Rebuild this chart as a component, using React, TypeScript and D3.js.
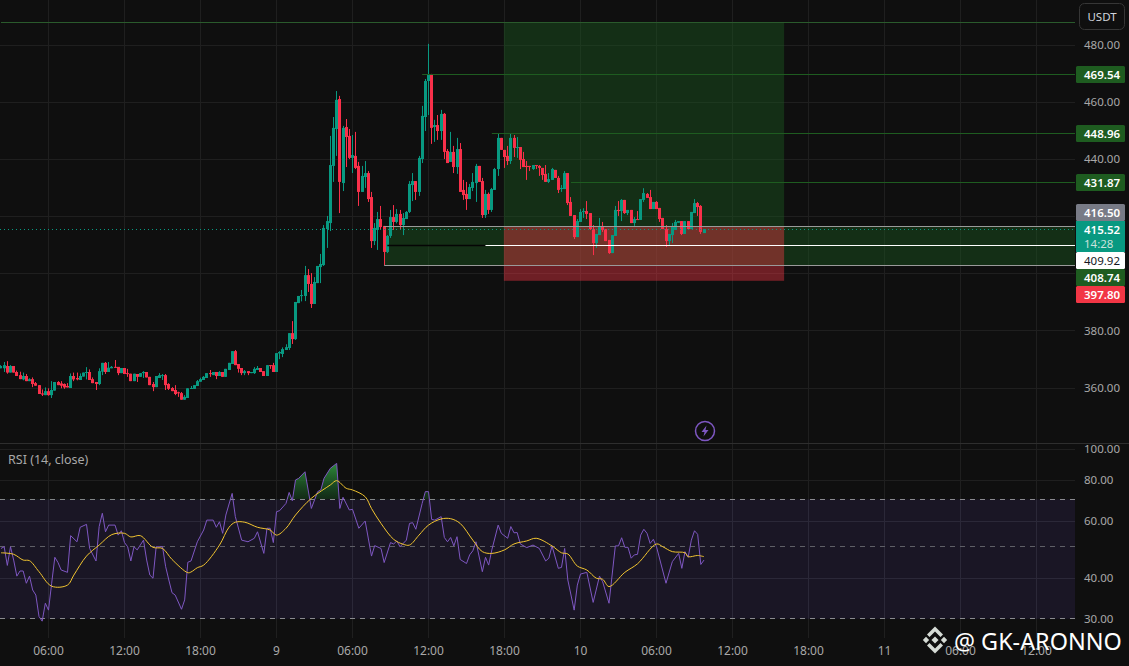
import React from "react";
import * as d3 from "d3";

const opens = [
366.9,366.9,367.7,365.4,367.7,365.6,364.5,363.0,364.2,362.4,
363.1,361.7,361.0,358.1,357.5,358.9,357.5,359.1,362.1,361.6,
361.4,360.7,360.0,364.2,363.5,362.8,364.0,365.4,365.6,363.1,
362.1,361.4,365.7,368.8,365.6,366.9,367.4,367.4,365.2,367.0,
365.2,365.0,362.4,364.9,363.9,365.2,365.6,363.9,361.4,360.3,
363.5,364.3,364.5,361.4,360.0,359.3,358.5,358.2,355.9,356.5,
359.7,359.7,360.7,362.2,362.8,363.5,365.2,364.5,365.6,364.2,
365.6,363.9,366.3,368.4,372.9,368.4,367.0,365.2,365.9,365.2,
365.2,366.3,367.0,365.9,364.2,368.0,368.0,365.6,372.1,371.9,
373.3,374.0,379.2,377.1,389.7,392.3,392.2,399.5,396.4,389.4,
396.7,402.3,403.0,415.6,417.7,437.7,450.6,461.1,431.7,451.3,
448.2,440.5,441.2,437.7,428.6,433.8,435.2,426.8,411.4,415.3,
419.1,416.7,407.6,413.2,419.8,418.1,420.9,417.0,419.1,421.6,
431.0,432.4,428.6,440.1,454.8,467.4,469.5,451.3,452.0,449.9,
455.9,442.9,439.1,442.6,437.3,443.6,429.3,427.9,426.1,430.0,
431.7,437.7,432.4,420.5,427.9,422.3,429.3,436.6,447.5,443.3,
441.2,439.4,447.5,444.0,444.3,440.1,437.7,437.7,436.6,438.0,
437.7,437.0,434.9,432.1,432.8,436.3,433.5,429.6,429.6,435.2,
425.1,420.5,412.8,418.1,421.6,421.9,421.2,415.6,410.7,413.5,
416.7,415.6,411.8,407.2,413.2,422.3,421.9,425.8,421.2,422.3,
417.7,419.1,418.8,425.8,427.9,426.8,422.6,425.1,423.0,419.5,
415.6,411.4,413.5,415.3,417.8,418.4,413.9,418.4,415.6,421.2,
424.7,423.7,414.2];

const highs = [
368.0,369.1,369.4,368.0,367.7,366.1,365.7,365.4,364.9,363.4,
363.7,362.1,361.0,359.5,360.2,359.9,362.4,362.1,362.4,362.4,
361.6,361.7,365.1,365.4,365.4,365.1,365.4,367.3,366.5,363.7,
362.1,366.9,368.8,369.1,369.1,367.7,369.8,367.3,367.0,367.0,
366.7,365.0,365.0,364.9,365.2,365.9,365.6,363.9,362.1,364.2,
365.2,364.9,364.9,361.7,360.3,361.0,358.7,358.6,357.5,359.9,
360.7,361.0,362.8,363.6,364.2,365.2,366.3,365.6,365.6,365.9,
365.6,366.7,368.8,372.9,373.3,368.4,367.0,366.3,365.9,365.6,
367.3,367.7,367.0,365.9,368.0,368.0,368.8,372.2,372.9,374.2,
375.3,379.2,383.4,390.1,392.2,394.3,402.7,401.6,400.2,398.8,
402.7,406.9,417.0,420.2,448.2,454.8,463.9,462.2,451.7,454.1,
450.6,448.5,449.6,439.1,437.7,439.4,435.9,428.6,417.7,421.6,
423.7,416.7,413.5,422.3,424.0,422.6,422.3,421.2,421.9,432.4,
435.2,432.4,441.2,458.7,468.1,480.4,469.9,453.8,455.5,457.3,
456.2,443.6,449.6,444.7,447.5,445.7,432.8,432.1,431.4,435.2,
438.4,437.7,433.5,429.3,428.4,430.0,437.0,448.9,447.5,443.3,
444.7,449.2,448.5,447.8,444.3,442.6,439.4,437.7,438.0,438.0,
438.0,437.0,438.0,435.2,437.0,436.3,434.2,431.0,435.9,435.2,
426.8,420.5,419.1,422.6,422.9,425.4,421.2,417.0,413.9,419.5,
418.1,415.6,411.8,413.5,423.7,425.4,426.1,425.8,422.3,422.3,
419.8,421.9,426.1,429.9,428.2,429.3,425.1,425.4,423.0,419.5,
417.0,413.9,417.7,418.8,418.4,418.4,418.4,418.4,421.6,426.1,
425.1,424.0,415.6];

const lows = [
366.9,365.6,365.0,365.4,365.4,364.2,363.1,362.7,362.4,362.4,
360.3,360.8,357.9,357.2,357.5,357.3,356.5,359.1,361.0,359.9,
359.7,360.2,360.0,362.4,362.7,362.8,364.0,363.0,362.8,361.7,
359.3,361.0,364.5,364.9,365.6,366.9,367.1,364.5,365.2,364.9,
363.9,362.4,362.4,362.1,363.9,363.5,363.7,361.0,358.9,360.3,
363.5,362.8,359.3,359.3,358.9,357.5,356.9,355.9,355.9,356.5,
359.7,359.7,360.7,362.2,362.8,363.5,363.9,364.5,363.1,364.2,
363.9,363.9,366.3,368.4,368.0,365.4,364.5,364.5,364.5,365.2,
364.9,366.3,365.6,364.2,364.2,366.7,365.6,365.6,370.1,370.8,
373.3,373.3,375.4,376.8,389.7,390.3,390.4,393.6,388.0,389.4,
396.7,396.7,402.7,409.0,414.9,432.1,441.2,421.2,428.9,437.3,
440.1,435.2,436.6,423.7,428.6,430.0,425.1,409.0,410.0,408.3,
415.3,403.0,407.2,412.5,415.3,417.6,415.3,413.5,419.1,421.2,
425.4,425.8,427.2,438.7,449.9,455.5,445.4,446.1,446.8,446.8,
440.1,438.7,439.1,435.2,434.9,428.6,425.8,422.3,426.1,428.9,
425.1,432.1,419.5,419.5,420.9,421.6,429.3,434.2,443.3,437.0,
438.0,438.4,440.8,440.5,436.6,437.3,432.8,435.9,436.3,436.6,
434.2,432.8,432.1,431.7,432.8,433.5,428.2,428.6,429.6,424.0,
420.2,412.1,412.8,418.1,419.5,419.1,415.3,406.5,409.0,413.5,
414.6,411.4,406.9,407.2,413.2,420.2,418.4,420.9,420.5,417.7,
416.7,418.9,418.8,425.1,426.5,422.6,422.6,422.6,418.1,415.6,
409.3,409.7,410.7,415.3,417.8,413.5,413.9,415.3,415.6,421.2,
420.2,413.9,414.2];

const closes = [
367.7,368.0,365.4,367.7,365.4,364.2,363.1,364.2,362.4,363.1,
361.4,360.8,357.9,357.7,358.9,357.5,359.3,362.1,361.0,360.8,
360.2,360.2,364.2,363.0,363.0,364.2,365.4,365.6,362.8,361.7,
361.4,365.9,368.8,365.6,367.1,367.4,367.1,365.2,367.0,364.9,
365.0,362.4,365.0,363.9,365.2,365.6,363.7,361.0,360.3,364.2,
364.5,364.5,361.0,359.7,358.9,357.9,358.2,355.9,356.9,359.9,
360.0,361.0,362.4,363.1,363.9,365.2,365.0,365.6,364.2,365.6,
363.9,366.7,368.8,372.9,368.0,366.7,365.2,365.9,365.2,365.6,
366.7,367.0,365.6,364.2,368.0,367.7,365.6,372.2,372.6,373.6,
374.3,379.2,377.1,390.1,392.2,392.5,399.5,396.4,389.4,397.1,
402.7,403.4,416.0,418.4,438.0,451.0,460.8,432.1,451.0,447.8,
440.5,441.5,437.0,428.6,434.2,435.2,426.1,411.4,416.0,419.1,
416.3,407.6,413.2,419.8,418.1,420.9,417.0,419.5,421.6,431.4,
432.4,428.6,440.5,455.2,467.4,469.5,451.0,452.0,449.9,455.9,
442.6,438.7,442.6,437.3,443.6,428.6,427.5,426.1,430.3,432.1,
437.7,432.1,420.5,427.9,422.3,429.6,436.6,447.5,443.3,440.8,
439.4,447.5,444.0,444.3,439.8,437.3,437.3,437.3,438.0,437.7,
437.0,434.5,432.1,433.1,436.6,433.5,429.3,430.0,435.2,424.7,
420.2,412.8,418.4,421.6,421.9,420.9,415.6,410.7,413.9,416.7,
415.3,411.4,407.2,413.5,422.3,421.9,425.8,421.2,422.3,417.7,
419.1,418.9,426.1,428.2,426.5,422.6,425.1,422.6,419.1,415.6,
411.4,413.9,416.7,418.1,418.4,413.9,418.4,415.6,421.6,424.7,
423.3,414.6,415.6];

const rsiBars = [
0,1,2,3,4,5,6,7,8,9,10,11,12,13,14,15,16,17,18,19,21,22,24,25,27,28,30,31,32,33,34,36,37,38,39,40,41,42,43,45,46,47,48,49,51,52,53,54,55,57,58,59,60,62,64,65,67,68,69,70,71,73,74,76,78,80,81,83,84,85,86,87,88,90,91,92,93,94,96,97,98,100,101,102,104,106,107,108,110,111,113,115,117,118,120,121,123,124,125,126,128,129,130,131,133,134,135,136,137,139,140,141,142,143,144,145,147,148,149,150,152,153,154,155,157,158,160,161,162,163,164,166,168,170,172,173,174,176,177,178,179,181,182,183,185,187,189,190,192,194,195,196,197,198,199,200,201,202,203,204,205,206,207,210,212,214,215,216,217,218,219,220,221,222];
const rsiValues = [
49.4,50.0,43.8,50.0,45.5,40.6,42.1,42.1,38.6,40.6,36.8,35.5,30.5,29.5,33.5,31.9,38.6,46.4,44.7,42.4,41.7,54.1,51.8,57.4,58.6,49.4,45.2,57.7,63.4,55.6,58.3,58.3,54.3,56.0,51.5,50.0,45.2,50.0,48.9,52.4,45.5,40.9,40.0,50.0,50.0,43.4,39.5,36.1,35.5,32.1,34.3,44.8,45.2,51.8,56.3,60.4,60.4,57.4,59.7,55.0,62.6,73.0,61.9,52.4,51.8,53.1,55.6,47.7,57.0,57.0,51.5,64.1,64.6,68.0,73.5,69.3,80.3,81.2,85.1,74.8,65.6,73.9,74.8,81.2,87.2,90.3,65.6,71.0,64.9,65.2,57.0,60.0,46.8,50.4,49.4,44.7,51.5,51.0,52.1,50.0,52.4,59.0,59.3,56.6,68.0,73.9,73.9,60.7,60.4,61.9,53.4,51.8,53.4,50.3,53.7,45.7,44.4,47.2,48.6,51.8,41.9,46.4,43.9,48.9,58.3,55.0,53.1,57.7,55.2,55.3,51.0,49.7,50.6,49.4,45.2,46.1,50.3,42.9,43.2,49.4,39.5,31.9,38.1,41.2,41.7,33.7,40.6,39.0,33.5,50.3,50.3,53.3,49.8,49.8,46.1,47.2,47.4,54.3,56.6,55.0,51.2,52.7,50.0,38.6,45.0,47.7,42.9,48.3,46.4,52.4,56.0,54.6,44.1,45.5];

const signalBars = [
0,4,7,9,12,16,21,23,27,31,35,39,41,44,48,51,54,59,60,62,64,69,72,74,77,81,85,87,90,93,98,104,106,109,111,115,117,120,124,127,129,132,135,139,142,145,149,152,155,159,162,166,169,174,177,179,182,185,188,190,192,197,201,207,209,212,216,217,220,222];
const signalValues = [
47.9,47.4,45.5,45.3,41.9,37.8,38.1,40.9,46.8,50.6,54.5,55.0,53.6,54.1,49.8,49.4,45.7,41.6,41.8,43.1,43.9,50.6,57.4,59.5,59.5,57.4,56.3,54.3,57.0,62.6,70.5,77.5,79.9,75.7,74.8,71.3,65.6,59.0,52.7,50.9,50.6,54.3,58.3,60.9,61.0,59.0,52.4,48.3,47.7,48.9,51.0,52.1,53.1,50.3,47.9,47.5,43.6,42.4,40.0,39.7,37.7,41.7,44.3,51.0,50.0,48.3,47.9,46.6,47.0,46.6];

const timeBars = [15,39,63,87,111,135,159,183,207,231,255,279,303,327];
const timeLabels = ["06:00","12:00","18:00","9","06:00","12:00","18:00","10","06:00","12:00","18:00","11","06:00","12:00"];
const priceTicks = [480,460,440,420,400,380,360];
const rsiTicks = [100,80,60,40,30];

const targetOne = 469.54;
const targetTwo = 448.96;
const targetThree = 431.87;
const entryPrice = 416.5;
const lastPrice = 415.52;
const whitePrice = 409.92;
const lowerStopLine = 403.0;
const boxTop = 487.7;
const boxEntry = 416.5;
const boxBottom = 397.5;
const boxStartBar = 158.8;
const boxEndBar = 247.3;

const priceTags = [
  { text: "469.54", y: 66, h: 17, fill: "#1e5c20", color: "#ffffff", bold: true },
  { text: "448.96", y: 125, h: 17, fill: "#1e5c20", color: "#ffffff", bold: true },
  { text: "431.87", y: 174, h: 17, fill: "#1e5c20", color: "#ffffff", bold: true },
  { text: "416.50", y: 204, h: 17, fill: "#787b86", color: "#ffffff", bold: true },
  { text: "409.92", y: 252, h: 17, fill: "#ffffff", color: "#131722", bold: false },
  { text: "408.74", y: 269, h: 17, fill: "#1e5c20", color: "#ffffff", bold: true },
  { text: "397.80", y: 286, h: 17, fill: "#f23645", color: "#ffffff", bold: true },
];

const x = d3.scaleLinear().domain([15, 303]).range([48.5, 960.5]);
const y = d3.scaleLinear().domain([480, 360]).range([45, 388]);
const rsiY = d3.scaleLog().domain([100, 30]).range([449, 618.8]);

const UP = "#089981";
const DOWN = "#f9304a";
const GRID = "#1f1f1f";
const AXIS = "#a8a8a8";
const FONT = "'Noto Sans', sans-serif";
const RIGHT = 1075;
const LABEL_X = 1084;

const crisp = (v: number) => Math.round(v - 0.5) + 0.5;

function Candles() {
  return (
    <g>
      {closes.map((c, i) => {
        const up = c >= opens[i];
        const color = up ? UP : DOWN;
        const cx = crisp(x(i));
        const top = y(Math.max(c, opens[i]));
        const bot = y(Math.min(c, opens[i]));
        return (
          <g key={i}>
            <line x1={cx} x2={cx} y1={y(highs[i])} y2={y(lows[i])} stroke={color} strokeWidth={1} />
            <rect x={cx - 1.5} width={3} y={top} height={Math.max(1, bot - top)} fill={color} />
          </g>
        );
      })}
    </g>
  );
}

function Watermark() {
  const squares = [
    [-9, 0, 4.5],
    [9, 0, 4.5],
    [0, 0, 5],
  ];
  return (
    <g>
      <g transform="translate(935,640)" fill="#d6dcd6">
        {squares.map(([sx, sy, s], i) => (
          <rect key={i} x={sx - s / 2} y={sy - s / 2} width={s} height={s} transform={`rotate(45 ${sx} ${sy})`} />
        ))}
        <path d="M-8,-5.5 L0,-13.5 L8,-5.5 L5.5,-3 L0,-8.5 L-5.5,-3 Z" />
        <path d="M-8,5.5 L0,13.5 L8,5.5 L5.5,3 L0,8.5 L-5.5,3 Z" />
      </g>
      <text x={954} y={650} fontSize={23.4} fontFamily={FONT} fill="#ffffff">@ GK-ARONNO</text>
    </g>
  );
}

export default function App() {
  const rsiLine = d3.line<number>().x((b) => x(b)).y((_, i) => rsiY(rsiValues[i])).curve(d3.curveLinear);
  const signalLine = d3.line<number>().x((b) => x(b)).y((_, i) => rsiY(signalValues[i])).curve(d3.curveCatmullRom);
  const rsiArea = d3.area<number>().x((b) => x(b)).y0(rsiY(70)).y1((_, i) => rsiY(rsiValues[i]));

  const hLine = (price: number, bar: number, color: string, width = 1) => (
    <line x1={x(bar)} x2={RIGHT} y1={crisp(y(price))} y2={crisp(y(price))} stroke={color} strokeWidth={width} />
  );

  return (
    <svg
      width={1129}
      height={666}
      style={{ position: "fixed", left: 0, top: 0, display: "block", background: "#0f0f0f" }}
      fontFamily={FONT}
    >
      <defs>
        <clipPath id="over70">
          <rect x={0} y={449} width={RIGHT} height={rsiY(70) - 449} />
        </clipPath>
        <linearGradient id="overFill" x1="0" x2="0" y1={rsiY(90)} y2={rsiY(70)} gradientUnits="userSpaceOnUse">
          <stop offset="0" stopColor="#2e8b3a" stopOpacity={1} />
          <stop offset="1" stopColor="#1a5c26" stopOpacity={0.35} />
        </linearGradient>
      </defs>
      <rect width={1129} height={666} fill="#0f0f0f" />

      {/* RSI band */}
      <rect x={0} width={RIGHT} y={rsiY(70)} height={rsiY(30) - rsiY(70)} fill="#1a1625" />

      {/* Grid */}
      {timeBars.map((b, i) => (
        <g key={i}>
          <line x1={crisp(x(b))} x2={crisp(x(b))} y1={0} y2={638} stroke={GRID} strokeOpacity={1} />
          <line x1={crisp(x(b))} x2={crisp(x(b))} y1={rsiY(70)} y2={rsiY(30)} stroke="#2b2838" />
        </g>
      ))}
      {priceTicks.map((p) => (
        <line key={p} x1={0} x2={RIGHT} y1={crisp(y(p))} y2={crisp(y(p))} stroke={GRID} />
      ))}
      {rsiTicks.filter((v) => v !== 30).map((v) => (
        <line key={v} x1={0} x2={RIGHT} y1={crisp(rsiY(v))} y2={crisp(rsiY(v))}
          stroke={v === 60 || v === 40 ? "#2b2838" : GRID} />
      ))}
      <line x1={0} x2={1129} y1={443.5} y2={443.5} stroke="#2e2e2e" />

      {/* Position box */}
      <rect x={x(boxStartBar)} width={x(boxEndBar) - x(boxStartBar)} y={y(boxTop)} height={y(boxEntry) - y(boxTop)} fill="#1b5e20" fillOpacity={0.4} />
      <rect x={x(121)} width={RIGHT - x(121)} y={y(entryPrice)} height={y(lowerStopLine) - y(entryPrice)} fill="#1b5e20" fillOpacity={0.4} />
      <rect x={x(boxStartBar)} width={x(boxEndBar) - x(boxStartBar)} y={y(boxEntry)} height={y(boxBottom) - y(boxEntry)} fill="#f23645" fillOpacity={0.42} />

      <Candles />

      {/* Level lines */}
      {hLine(boxTop, 0, "#2a5a2c")}
      {hLine(targetOne, 133, "#1e5c20")}
      {hLine(targetTwo, 155, "#1e5c20")}
      {hLine(targetThree, 180, "#1e5c20")}
      {hLine(entryPrice, 121, "#9a9a9a", 1)}
      {hLine(lowerStopLine, 121, "#9a9a9a", 1)}
      <line x1={0} x2={RIGHT} y1={crisp(y(lastPrice))} y2={crisp(y(lastPrice))} stroke={UP} strokeDasharray="1 3" />
      <line x1={x(122)} x2={x(153)} y1={crisp(y(whitePrice))} y2={crisp(y(whitePrice))} stroke="#050505" strokeWidth={1.5} />
      <line x1={x(153)} x2={RIGHT} y1={crisp(y(whitePrice))} y2={crisp(y(whitePrice))} stroke="#ffffff" />

      {/* Lightning icon */}
      <g transform="translate(705,431)">
        <circle r={9.5} fill="none" stroke="#7e57c2" strokeWidth={1.5} />
        <path d="M1.5,-5.5 L-3.5,1 L-0.5,1 L-1.5,5.5 L3.5,-1 L0.5,-1 Z" fill="#7e57c2" />
      </g>

      {/* RSI */}
      {[70, 50, 30].map((v) => (
        <line key={v} x1={0} x2={RIGHT} y1={crisp(rsiY(v))} y2={crisp(rsiY(v))}
          stroke={v === 50 ? "#5f5f66" : "#8a8a8f"} strokeDasharray="5 5" />
      ))}
      <path d={rsiArea(rsiBars) ?? ""} fill="url(#overFill)" clipPath="url(#over70)" />
      <path d={rsiLine(rsiBars) ?? ""} fill="none" stroke="#7e57c2" strokeWidth={1} />
      <path d={signalLine(signalBars) ?? ""} fill="none" stroke="#f2c530" strokeWidth={1} />
      <text x={8} y={464} fontSize={12.5} fill={AXIS}>RSI (14, close)</text>

      {/* Price axis */}
      <rect x={1079.5} y={3.5} width={45} height={26} rx={5} fill="#0f0f0f" stroke="#363636" />
      <text x={1102} y={21} fontSize={11.5} textAnchor="middle" fill="#d1d4dc">USDT</text>
      {priceTicks.map((p) => (
        <text key={p} x={LABEL_X} y={y(p) + 4} fontSize={11.5} fill={AXIS}>{p.toFixed(2)}</text>
      ))}
      {rsiTicks.map((v) => (
        <text key={v} x={LABEL_X} y={rsiY(v) + 4} fontSize={11.5} fill={AXIS}>{v.toFixed(2)}</text>
      ))}
      {priceTags.map((t) => (
        <g key={t.text}>
          <rect x={1076} y={t.y} width={49} height={t.h} rx={1.5} fill={t.fill} />
          <text x={LABEL_X} y={t.y + 13} fontSize={11.5} fontWeight={t.bold ? 600 : 400} fill={t.color}>{t.text}</text>
        </g>
      ))}
      <rect x={1076} y={221} width={49} height={31} fill={UP} />
      <text x={LABEL_X} y={234} fontSize={11.5} fontWeight={600} fill="#ffffff">{lastPrice.toFixed(2)}</text>
      <text x={LABEL_X} y={248} fontSize={11.5} fill="#c8e2dc">14:28</text>

      {/* Time axis */}
      {timeBars.map((b, i) => (
        <text key={i} x={x(b)} y={655} fontSize={12} textAnchor="middle" fill={AXIS}>{timeLabels[i]}</text>
      ))}

      <Watermark />
    </svg>
  );
}
